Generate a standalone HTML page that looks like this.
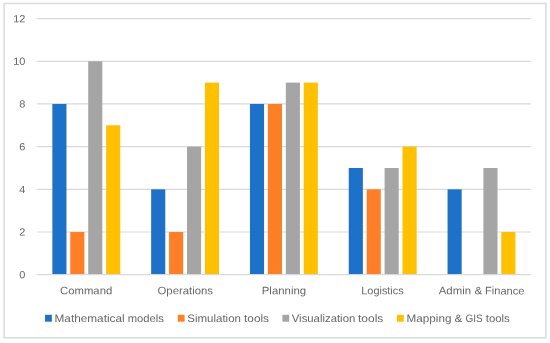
<!DOCTYPE html>
<html lang="en">
<head>
<meta charset="utf-8">
<title>Chart</title>
<style>
html,body{margin:0;padding:0;background:#fff;}
body{width:550px;height:343px;overflow:hidden;}
svg{display:block;}
text{font-family:"Liberation Sans",sans-serif;fill:#666666;}
</style>
</head>
<body>
<svg width="550" height="343" viewBox="0 0 550 343">
<rect x="0" y="0" width="550" height="343" fill="#ffffff"/>
<rect x="4.1" y="3.5" width="541.8" height="334.3" fill="none" stroke="#dbdbdb" stroke-width="1.5"/>
<line x1="36.9" y1="232.02" x2="530.9" y2="232.02" stroke="#d9d9d9" stroke-width="1.2"/>
<line x1="36.9" y1="189.33" x2="530.9" y2="189.33" stroke="#d9d9d9" stroke-width="1.2"/>
<line x1="36.9" y1="146.65" x2="530.9" y2="146.65" stroke="#d9d9d9" stroke-width="1.2"/>
<line x1="36.9" y1="103.97" x2="530.9" y2="103.97" stroke="#d9d9d9" stroke-width="1.2"/>
<line x1="36.9" y1="61.28" x2="530.9" y2="61.28" stroke="#d9d9d9" stroke-width="1.2"/>
<line x1="36.9" y1="18.60" x2="530.9" y2="18.60" stroke="#d9d9d9" stroke-width="1.2"/>
<rect x="52.36" y="103.97" width="14.11" height="170.43" fill="#1e71c8"/>
<rect x="70.28" y="232.02" width="14.11" height="42.38" fill="#ff7f27"/>
<rect x="88.21" y="61.28" width="14.11" height="213.12" fill="#a5a5a5"/>
<rect x="106.13" y="125.31" width="14.11" height="149.09" fill="#ffc000"/>
<rect x="151.16" y="189.33" width="14.11" height="85.07" fill="#1e71c8"/>
<rect x="169.08" y="232.02" width="14.11" height="42.38" fill="#ff7f27"/>
<rect x="187.01" y="146.65" width="14.11" height="127.75" fill="#a5a5a5"/>
<rect x="204.93" y="82.62" width="14.11" height="191.77" fill="#ffc000"/>
<rect x="249.96" y="103.97" width="14.11" height="170.43" fill="#1e71c8"/>
<rect x="267.88" y="103.97" width="14.11" height="170.43" fill="#ff7f27"/>
<rect x="285.81" y="82.62" width="14.11" height="191.77" fill="#a5a5a5"/>
<rect x="303.73" y="82.62" width="14.11" height="191.77" fill="#ffc000"/>
<rect x="348.76" y="167.99" width="14.11" height="106.41" fill="#1e71c8"/>
<rect x="366.68" y="189.33" width="14.11" height="85.07" fill="#ff7f27"/>
<rect x="384.61" y="167.99" width="14.11" height="106.41" fill="#a5a5a5"/>
<rect x="402.53" y="146.65" width="14.11" height="127.75" fill="#ffc000"/>
<rect x="447.56" y="189.33" width="14.11" height="85.07" fill="#1e71c8"/>
<rect x="483.41" y="167.99" width="14.11" height="106.41" fill="#a5a5a5"/>
<rect x="501.33" y="232.02" width="14.11" height="42.38" fill="#ffc000"/>
<line x1="36.9" y1="274.70" x2="530.9" y2="274.70" stroke="#d9d9d9" stroke-width="1.2"/>
<text x="25.4" y="278.30" font-size="10.3" text-anchor="end" textLength="6.1" lengthAdjust="spacingAndGlyphs" transform="rotate(0.03 25.4 278.30)">0</text>
<text x="25.4" y="235.62" font-size="10.3" text-anchor="end" textLength="6.1" lengthAdjust="spacingAndGlyphs" transform="rotate(0.03 25.4 235.62)">2</text>
<text x="25.4" y="192.93" font-size="10.3" text-anchor="end" textLength="6.1" lengthAdjust="spacingAndGlyphs" transform="rotate(0.03 25.4 192.93)">4</text>
<text x="25.4" y="150.25" font-size="10.3" text-anchor="end" textLength="6.1" lengthAdjust="spacingAndGlyphs" transform="rotate(0.03 25.4 150.25)">6</text>
<text x="25.4" y="107.57" font-size="10.3" text-anchor="end" textLength="6.1" lengthAdjust="spacingAndGlyphs" transform="rotate(0.03 25.4 107.57)">8</text>
<text x="25.4" y="64.88" font-size="10.3" text-anchor="end" textLength="12.2" lengthAdjust="spacingAndGlyphs" transform="rotate(0.03 25.4 64.88)">10</text>
<text x="25.4" y="22.20" font-size="10.3" text-anchor="end" textLength="12.2" lengthAdjust="spacingAndGlyphs" transform="rotate(0.03 25.4 22.20)">12</text>
<text y="294.35" font-size="10.8" transform="rotate(0.03 60.0 294.35)"><tspan x="60.00" textLength="52.23" lengthAdjust="spacingAndGlyphs">Command</tspan></text>
<text y="294.35" font-size="10.8" transform="rotate(0.03 157.5 294.35)"><tspan x="157.50" textLength="55.52" lengthAdjust="spacingAndGlyphs">Operations</tspan></text>
<text y="294.35" font-size="10.8" transform="rotate(0.03 261.7 294.35)"><tspan x="261.75" textLength="44.42" lengthAdjust="spacingAndGlyphs">Planning</tspan></text>
<text y="294.35" font-size="10.8" transform="rotate(0.03 361.3 294.35)"><tspan x="361.25" textLength="42.46" lengthAdjust="spacingAndGlyphs">Logistics</tspan></text>
<text y="294.35" font-size="10.8" transform="rotate(0.03 438.8 294.35)"><tspan x="438.75" textLength="32.27" lengthAdjust="spacingAndGlyphs">Admin</tspan> <tspan x="474.50" textLength="7.79" lengthAdjust="spacingAndGlyphs">&amp;</tspan> <tspan x="485.00" textLength="39.47" lengthAdjust="spacingAndGlyphs">Finance</tspan></text>
<rect x="45.05" y="314.8" width="6.8" height="6.9" fill="#1e71c8"/>
<text y="321.9" font-size="10.8" transform="rotate(0.03 54.5 321.9)"><tspan x="54.50" textLength="70.17" lengthAdjust="spacingAndGlyphs">Mathematical</tspan> <tspan x="127.75" textLength="36.24" lengthAdjust="spacingAndGlyphs">models</tspan></text>
<rect x="177.80" y="314.8" width="6.8" height="6.9" fill="#ff7f27"/>
<text y="321.9" font-size="10.8" transform="rotate(0.03 187.3 321.9)"><tspan x="187.25" textLength="53.72" lengthAdjust="spacingAndGlyphs">Simulation</tspan> <tspan x="244.00" textLength="25.04" lengthAdjust="spacingAndGlyphs">tools</tspan></text>
<rect x="282.40" y="314.8" width="6.8" height="6.9" fill="#a5a5a5"/>
<text y="321.9" font-size="10.8" transform="rotate(0.03 291.8 321.9)"><tspan x="291.75" textLength="63.50" lengthAdjust="spacingAndGlyphs">Visualization</tspan> <tspan x="358.00" textLength="25.29" lengthAdjust="spacingAndGlyphs">tools</tspan></text>
<rect x="397.00" y="314.8" width="6.8" height="6.9" fill="#ffc000"/>
<text y="321.9" font-size="10.8" transform="rotate(0.03 406.5 321.9)"><tspan x="406.50" textLength="44.92" lengthAdjust="spacingAndGlyphs">Mapping</tspan> <tspan x="454.50" textLength="7.78" lengthAdjust="spacingAndGlyphs">&amp;</tspan> <tspan x="465.50" textLength="17.24" lengthAdjust="spacingAndGlyphs">GIS</tspan> <tspan x="485.75" textLength="24.06" lengthAdjust="spacingAndGlyphs">tools</tspan></text>
</svg>
</body>
</html>
